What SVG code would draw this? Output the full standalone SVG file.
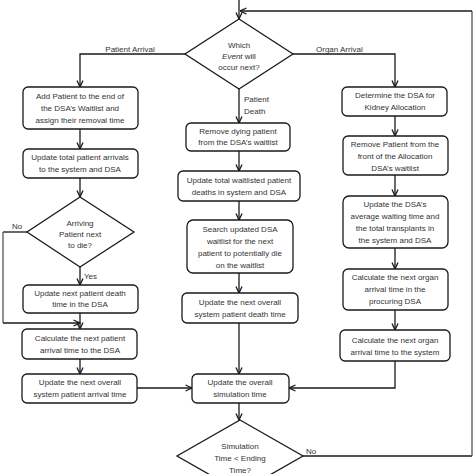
<svg xmlns="http://www.w3.org/2000/svg" width="474" height="474" viewBox="0 0 474 474">
<defs>
<style>
.box{fill:#fff;stroke:#1a1a1a;stroke-width:1.3}
.dia{fill:#fff;stroke:#1a1a1a;stroke-width:1.3}
.ln{fill:none;stroke:#1a1a1a;stroke-width:1.3}
.edge{fill:none;stroke:#555;stroke-width:1.3}
text{font-family:"Liberation Sans",Arial,sans-serif;font-size:8px;fill:#333;text-anchor:middle}
.lbl{text-anchor:start}
</style>
<marker id="ah" viewBox="0 0 8 8" refX="7.5" refY="4" markerWidth="8" markerHeight="8" markerUnits="userSpaceOnUse" orient="auto">
<path d="M1,1 L7.5,4 L1,7" fill="none" stroke="#1a1a1a" stroke-width="1.3"/>
</marker>
</defs>
<rect width="474" height="474" fill="#fff"/>
<g id="connectors">
<path class="ln" d="M239,0 V19" marker-end="url(#ah)"/>
<path class="ln" d="M303,456 H472"/>
<path class="edge" d="M472,456 V11"/>
<path class="ln" d="M472,11 H240" marker-end="url(#ah)"/>
<path class="ln" d="M185,54 H80 V87" marker-end="url(#ah)"/>
<path class="ln" d="M293,54 H395 V87" marker-end="url(#ah)"/>
<path class="ln" d="M239,89 V123" marker-end="url(#ah)"/>
<path class="ln" d="M80,129 V149" marker-end="url(#ah)"/>
<path class="ln" d="M80,178 V197" marker-end="url(#ah)"/>
<path class="ln" d="M27,232 H3"/>
<path class="edge" d="M3,232 V323"/>
<path class="ln" d="M3,323 H80" marker-end="url(#ah)"/>
<path class="ln" d="M80,267 V285" marker-end="url(#ah)"/>
<path class="ln" d="M80,313 V329" marker-end="url(#ah)"/>
<path class="ln" d="M80,359 V374" marker-end="url(#ah)"/>
<path class="ln" d="M137,388 H192" marker-end="url(#ah)"/>
<path class="ln" d="M239,151 V171" marker-end="url(#ah)"/>
<path class="ln" d="M239,201 V220" marker-end="url(#ah)"/>
<path class="ln" d="M239,273 V293" marker-end="url(#ah)"/>
<path class="ln" d="M239,323 V374" marker-end="url(#ah)"/>
<path class="ln" d="M239,403 V420" marker-end="url(#ah)"/>
<path class="ln" d="M395,116 V136" marker-end="url(#ah)"/>
<path class="ln" d="M395,175 V196" marker-end="url(#ah)"/>
<path class="ln" d="M395,248 V269" marker-end="url(#ah)"/>
<path class="ln" d="M395,310 V330" marker-end="url(#ah)"/>
<path class="ln" d="M395,361 V388 H289" marker-end="url(#ah)"/>
<text x="130" y="52">Patient Arrival</text>
<text class="lbl" x="316" y="52">Organ Arrival</text>
<text class="lbl" x="244" y="102">Patient</text>
<text class="lbl" x="244" y="114">Death</text>
<text class="lbl" x="12" y="229">No</text>
<text class="lbl" x="84" y="279">Yes</text>
<text class="lbl" x="306" y="454">No</text>
</g>
<g id="d1"><polygon class="dia" points="239,19 293,54 239,89 185,54"/>
<text x="239" y="48">Which</text><text x="239" y="59"><tspan font-style="italic">Event</tspan> will</text><text x="239" y="70">occur next?</text></g>
<g id="b1"><rect class="box" x="23" y="87" width="115" height="42" rx="5"/>
<text x="80" y="99">Add Patient to the end of</text><text x="80" y="111">the DSA’s Waitlist and</text><text x="80" y="123">assign their removal time</text></g>
<g id="b2"><rect class="box" x="23" y="149" width="115" height="29" rx="5"/>
<text x="80" y="160">Update total patient arrivals</text><text x="80" y="172">to the system and DSA</text></g>
<g id="d2"><polygon class="dia" points="80,197 134,232 80,267 27,232"/>
<text x="80" y="226">Arriving</text><text x="80" y="237">Patient next</text><text x="80" y="248">to die?</text></g>
<g id="b3"><rect class="box" x="23" y="285" width="115" height="28" rx="5"/>
<text x="80" y="296">Update next patient death</text><text x="80" y="307">time in the DSA</text></g>
<g id="b4"><rect class="box" x="22" y="329" width="115" height="30" rx="5"/>
<text x="80" y="341">Calculate the next patient</text><text x="80" y="353">arrival time to the DSA</text></g>
<g id="b5"><rect class="box" x="22" y="374" width="115" height="29" rx="5"/>
<text x="80" y="385">Update the next overall</text><text x="80" y="397">system patient arrival time</text></g>
<g id="c1"><rect class="box" x="186" y="123" width="104" height="28" rx="5"/>
<text x="238" y="134">Remove dying patient</text><text x="238" y="145">from the DSA’s waitlist</text></g>
<g id="c2"><rect class="box" x="178" y="171" width="122" height="30" rx="5"/>
<text x="239" y="183">Update total waitlisted patient</text><text x="239" y="195">deaths in system and DSA</text></g>
<g id="c3"><rect class="box" x="187" y="220" width="106" height="53" rx="6"/>
<text x="240" y="232">Search updated DSA</text><text x="240" y="244">waitlist for the next</text><text x="240" y="256">patient to potentially die</text><text x="240" y="268">on the waitlist</text></g>
<g id="c4"><rect class="box" x="182" y="293" width="116" height="30" rx="5"/>
<text x="240" y="305">Update the next overall</text><text x="240" y="317">system patient death time</text></g>
<g id="c5"><rect class="box" x="192" y="374" width="97" height="29" rx="5"/>
<text x="240" y="385">Update the overall</text><text x="240" y="397">simulation time</text></g>
<g id="d3"><polygon class="dia" points="240,420 303,456 240,492 177,456"/>
<text x="240" y="449">Simulation</text><text x="240" y="461">Time &lt; Ending</text><text x="240" y="473">Time?</text></g>
<g id="r1"><rect class="box" x="342" y="87" width="105" height="29" rx="5"/>
<text x="395" y="98">Determine the DSA for</text><text x="395" y="110">Kidney Allocation</text></g>
<g id="r2"><rect class="box" x="343" y="136" width="105" height="39" rx="5"/>
<text x="395" y="147">Remove Patient from the</text><text x="395" y="159">front of the Allocation</text><text x="395" y="171">DSA’s waitlist</text></g>
<g id="r3"><rect class="box" x="343" y="196" width="105" height="52" rx="6"/>
<text x="395" y="207">Update the DSA’s</text><text x="395" y="219">average waiting time and</text><text x="395" y="231">the total transplants in</text><text x="395" y="243">the system and DSA</text></g>
<g id="r4"><rect class="box" x="343" y="269" width="105" height="41" rx="5"/>
<text x="395" y="280">Calculate the next organ</text><text x="395" y="292">arrival time in the</text><text x="395" y="304">procuring DSA</text></g>
<g id="r5"><rect class="box" x="340" y="330" width="110" height="31" rx="5"/>
<text x="395" y="343">Calculate the next organ</text><text x="395" y="355">arrival time to the system</text></g>
</svg>
